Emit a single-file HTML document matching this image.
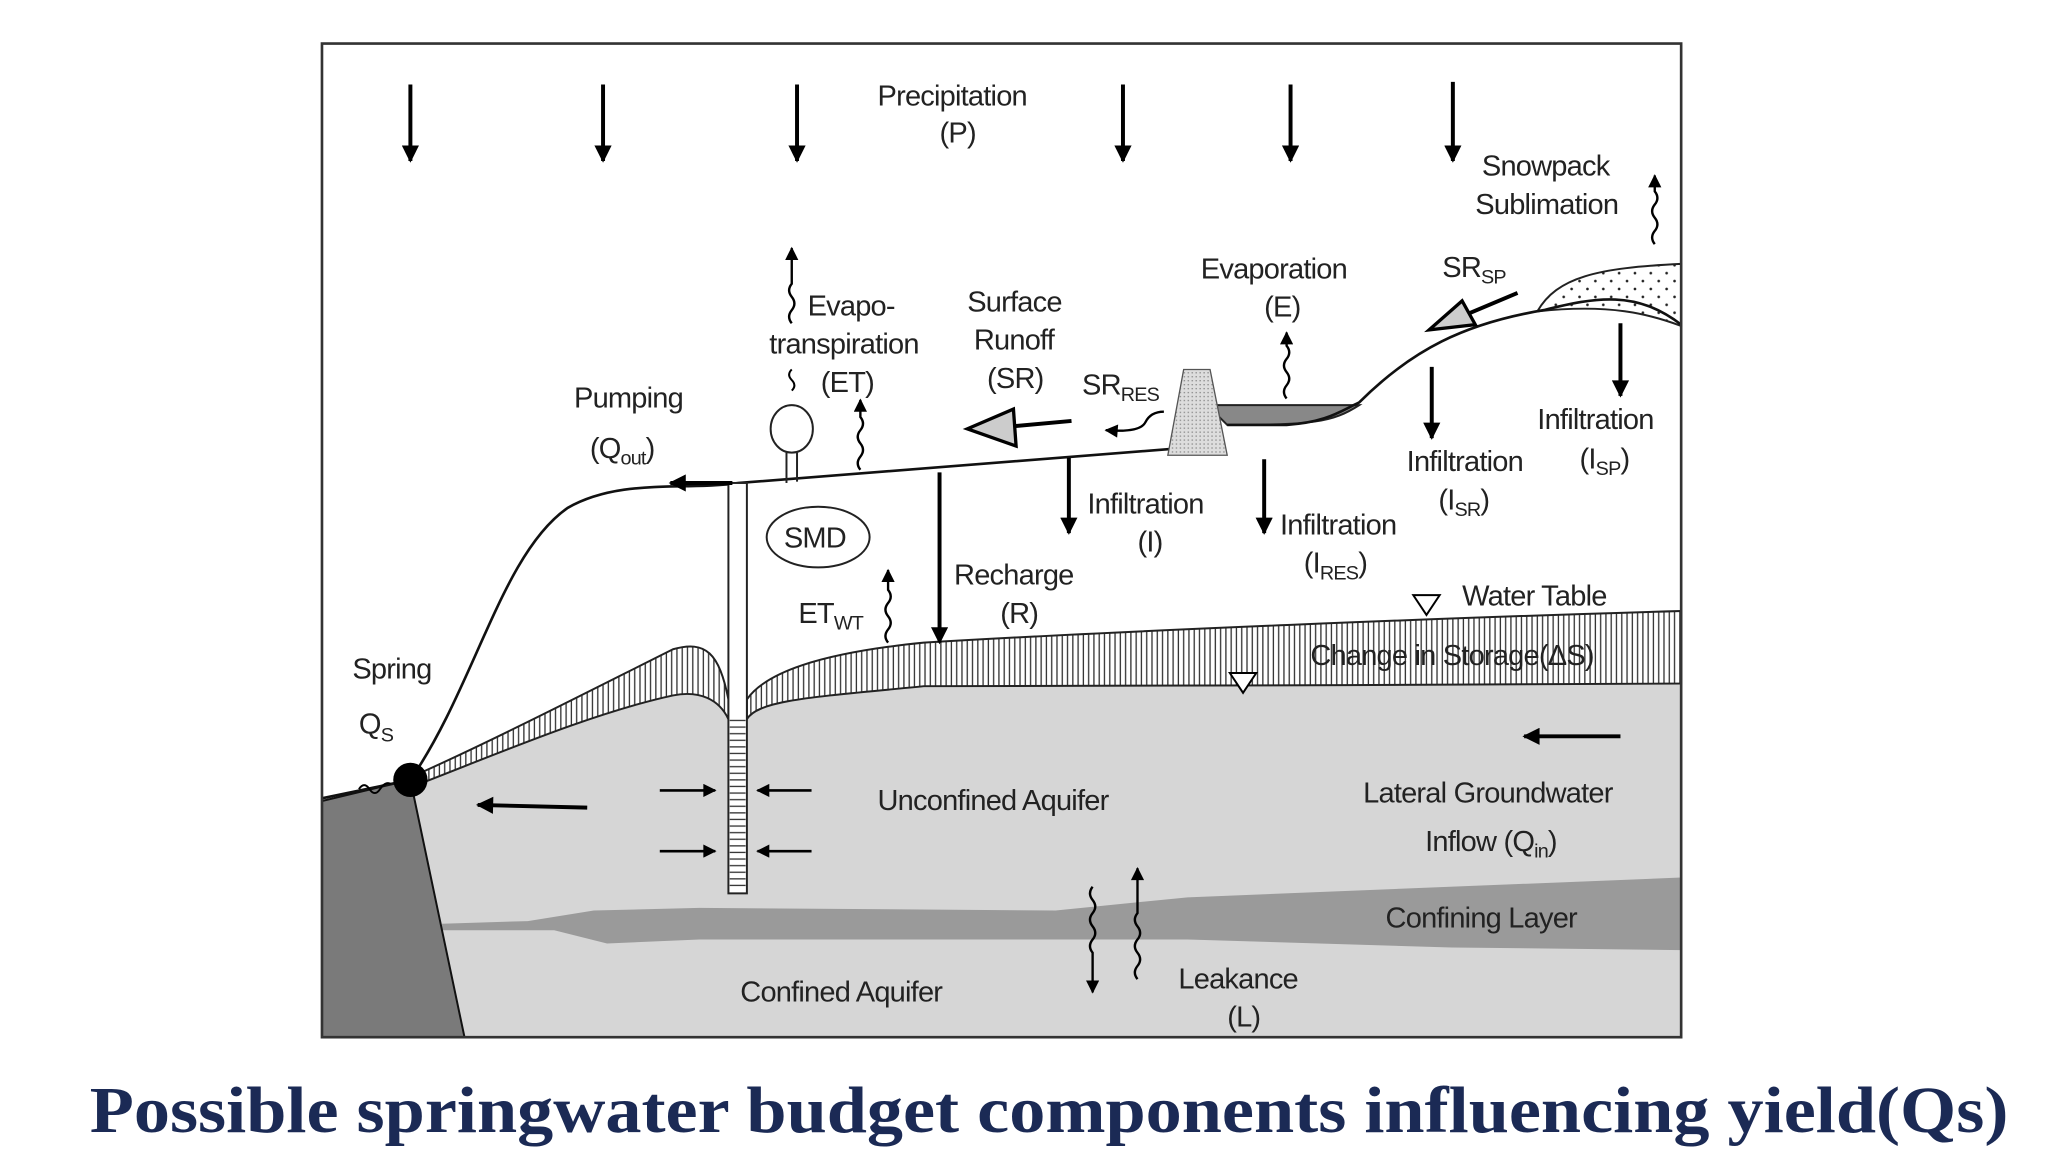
<!DOCTYPE html>
<html><head><meta charset="utf-8"><style>
html,body{margin:0;padding:0;background:#fff;width:2048px;height:1152px;overflow:hidden}
svg{display:block}
text{font-family:"Liberation Sans",sans-serif;font-size:22px;fill:#222;letter-spacing:-0.6px}
</style></head><body>
<svg width="2048" height="1152" viewBox="0 0 1552 873" preserveAspectRatio="none" xmlns="http://www.w3.org/2000/svg">
<defs>
<marker id="ah" viewBox="0 0 10 10" refX="9" refY="5" markerWidth="20" markerHeight="13" orient="auto" markerUnits="userSpaceOnUse"><path d="M0,0 L10,5 L0,10 z" fill="#000"/></marker>
<marker id="as" viewBox="0 0 10 10" refX="9" refY="5" markerWidth="14" markerHeight="10" orient="auto" markerUnits="userSpaceOnUse"><path d="M0,0 L10,5 L0,10 z" fill="#000"/></marker>
<pattern id="vh" width="4" height="10" patternUnits="userSpaceOnUse"><rect width="4" height="10" fill="#fff"/><line x1="1" y1="0" x2="1" y2="10" stroke="#333" stroke-width="1"/></pattern>
<pattern id="hh" width="10" height="5" patternUnits="userSpaceOnUse"><rect width="10" height="5" fill="#fff"/><line x1="0" y1="1" x2="10" y2="1" stroke="#333" stroke-width="1"/></pattern>
<pattern id="dots" width="12" height="12" patternUnits="userSpaceOnUse"><rect width="12" height="12" fill="#fff"/><circle cx="3" cy="3" r="1" fill="#222"/><circle cx="9" cy="9" r="1" fill="#222"/></pattern>
<pattern id="dam" width="3" height="3" patternUnits="userSpaceOnUse"><rect width="3" height="3" fill="#ddd"/><rect width="1" height="1" fill="#888"/></pattern>
</defs>
<rect x="0" y="0" width="1552" height="873" fill="#fff"/>
<path d="M311,591 C380,570 450,540 510,527 C530,523 545,530 552,545 L566,545 C575,530 620,528 700,520 L1274,518 L1274,786 L244,786 Z" fill="#d6d6d6"/>
<path d="M318,586 C380,558 450,522 510,492 C535,485 545,495 552,530 L552,545 C545,530 530,523 510,527 C450,540 380,570 318,594 Z" fill="url(#vh)" stroke="#222" stroke-width="1.5"/>
<path d="M566,530 C580,510 620,495 700,487 C850,478 1100,468 1274,463 L1274,518 C1100,519 850,520 700,520 C620,528 575,530 566,545 Z" fill="url(#vh)" stroke="#222" stroke-width="1.5"/>
<path d="M335,700 L400,698 L450,690 L530,688 L800,690 L900,680 L1274,665 L1274,720 L1100,718 L900,712 L750,712 L530,712 L460,715 L420,705 L335,705 Z" fill="#9a9a9a"/>
<path d="M244,607 L311,591 L352,786 L244,786 Z" fill="#7a7a7a" stroke="#111" stroke-width="1.5"/>
<path d="M1165,236 C1180,210 1210,203 1274,200 L1274,247 C1250,238 1220,230 1165,236 Z" fill="url(#dots)" stroke="#222" stroke-width="1.5"/>
<path d="M915,307 L1030,307 C1010,320 995,322 930,322 Z" fill="#888" stroke="#222" stroke-width="1.5"/>
<path d="M311,591 C360,520 380,420 430,385 C470,362 520,372 560,366 L890,340 M930,322 L975,322 C1005,320 1015,312 1030,305 C1070,265 1110,245 1170,235 C1210,225 1240,220 1274,246" fill="none" stroke="#111" stroke-width="2"/>
<path d="M244,605 L311,591" stroke="#111" stroke-width="2"/>
<path d="M885,345 L897,280 L917,280 L930,345 Z" fill="url(#dam)" stroke="#555" stroke-width="1"/>
<rect x="552" y="366" width="14" height="311" fill="#fff" stroke="#222" stroke-width="1.5"/>
<rect x="553" y="545" width="12" height="130" fill="url(#hh)"/>
<circle cx="311" cy="591" r="13" fill="#000"/>
<path d="M272,598 q4,-6 8,0 t8,0 t8,-4" fill="none" stroke="#000" stroke-width="1.5"/>
<rect x="244" y="33" width="1030" height="753" fill="none" stroke="#333" stroke-width="2"/>
<g stroke="#000" stroke-width="3" marker-end="url(#ah)">
<line x1="311" y1="64" x2="311" y2="122"/><line x1="457" y1="64" x2="457" y2="122"/><line x1="604" y1="64" x2="604" y2="122"/>
<line x1="851" y1="64" x2="851" y2="122"/><line x1="978" y1="64" x2="978" y2="122"/><line x1="1101" y1="62" x2="1101" y2="122"/>
<line x1="810" y1="347" x2="810" y2="404"/><line x1="958" y1="348" x2="958" y2="404"/><line x1="1085" y1="278" x2="1085" y2="332"/>
<line x1="1228" y1="245" x2="1228" y2="300"/><line x1="712" y1="358" x2="712" y2="487"/>
<line x1="445" y1="612" x2="362" y2="610"/><line x1="1228" y1="558" x2="1155" y2="558"/>
<line x1="555" y1="366" x2="508" y2="366"/>
</g>
<g stroke="#000" stroke-width="2" marker-end="url(#as)">
<line x1="500" y1="599" x2="542" y2="599"/><line x1="615" y1="599" x2="574" y2="599"/>
<line x1="500" y1="645" x2="542" y2="645"/><line x1="615" y1="645" x2="574" y2="645"/>
</g>
<g fill="none" stroke="#000" stroke-width="1.8" marker-end="url(#as)">
<path d="M1254,185 q-4,-5 0,-10 t0,-10 t0,-10 t0,-10 L1254,133"/>
<path d="M975,302 q-4,-5 0,-10 t0,-10 t0,-10 t0,-10 L975,252"/>
<path d="M600,245 q-4,-5 0,-10 t0,-10 t0,-10 L600,188"/>
<path d="M652,356 q-4,-5 0,-10 t0,-10 t0,-10 t0,-10 L652,303"/>
<path d="M673,487 q-4,-5 0,-10 t0,-10 t0,-10 t0,-10 L673,432"/>
<path d="M828,672 q-4,5 0,10 t0,10 t0,10 t0,10 t0,10 L828,752"/>
<path d="M862,742 q-4,-5 0,-10 t0,-10 t0,-10 t0,-10 t0,-10 L862,658"/>
<path d="M882,312 q-10,0 -14,8 t-30,6"/>
</g>
<path d="M600,280 q-4,4 0,8 t0,8" fill="none" stroke="#000" stroke-width="1.5"/>
<line x1="812" y1="319" x2="768" y2="323" stroke="#000" stroke-width="3"/>
<path d="M733,325 L768,310 L770,338 Z" fill="#ccc" stroke="#000" stroke-width="2.5"/>
<line x1="1150" y1="222" x2="1112" y2="238" stroke="#000" stroke-width="3"/>
<path d="M1083,250 L1108,228 L1118,246 Z" fill="#ccc" stroke="#000" stroke-width="2.5"/>
<ellipse cx="600" cy="325" rx="16" ry="18" fill="#fff" stroke="#222" stroke-width="1.5"/>
<line x1="596" y1="343" x2="596" y2="366" stroke="#222" stroke-width="1.5"/><line x1="604" y1="343" x2="604" y2="365" stroke="#222" stroke-width="1.5"/>
<ellipse cx="620" cy="407" rx="39" ry="23" fill="#fff" stroke="#222" stroke-width="1.5"/>
<path d="M1071,451 L1091,451 L1081,466 Z" fill="#fff" stroke="#000" stroke-width="1.5"/>
<path d="M932,510 L952,510 L942,525 Z" fill="#fff" stroke="#000" stroke-width="1.5"/>
<text x="665" y="80">Precipitation</text><text x="712" y="108">(P)</text>
<text x="1123" y="133">Snowpack</text><text x="1118" y="162">Sublimation</text>
<text x="910" y="211">Evaporation</text><text x="958" y="240">(E)</text>
<text x="1093" y="210">SR<tspan font-size="15" dy="5">SP</tspan></text>
<text x="612" y="239">Evapo-</text><text x="583" y="268">transpiration</text><text x="622" y="297">(ET)</text>
<text x="733" y="236">Surface</text><text x="738" y="265">Runoff</text><text x="748" y="294">(SR)</text>
<text x="820" y="299">SR<tspan font-size="15" dy="5">RES</tspan></text>
<text x="435" y="309">Pumping</text><text x="447" y="347">(Q<tspan font-size="15" dy="5">out</tspan><tspan dy="-5">)</tspan></text>
<text x="594" y="415">SMD</text>
<text x="723" y="443">Recharge</text><text x="758" y="472">(R)</text>
<text x="605" y="472">ET<tspan font-size="15" dy="5">WT</tspan></text>
<text x="824" y="389">Infiltration</text><text x="862" y="418">(I)</text>
<text x="970" y="405">Infiltration</text><text x="988" y="434">(I<tspan font-size="15" dy="5">RES</tspan><tspan dy="-5">)</tspan></text>
<text x="1066" y="357">Infiltration</text><text x="1090" y="386">(I<tspan font-size="15" dy="5">SR</tspan><tspan dy="-5">)</tspan></text>
<text x="1165" y="325">Infiltration</text><text x="1197" y="355">(I<tspan font-size="15" dy="5">SP</tspan><tspan dy="-5">)</tspan></text>
<text x="1108" y="459">Water Table</text>
<text x="993" y="504">Change in Storage(ΔS)</text>
<text x="267" y="514">Spring</text><text x="272" y="556">Q<tspan font-size="15" dy="6">S</tspan></text>
<text x="665" y="614">Unconfined Aquifer</text>
<text x="1033" y="608">Lateral Groundwater</text><text x="1080" y="645">Inflow (Q<tspan font-size="15" dy="5">in</tspan><tspan dy="-5">)</tspan></text>
<text x="1050" y="703">Confining Layer</text>
<text x="561" y="759">Confined Aquifer</text>
<text x="893" y="749">Leakance</text><text x="930" y="778">(L)</text>
<text x="68" y="858" textLength="1454" lengthAdjust="spacingAndGlyphs" style="font-family:'Liberation Serif',serif;font-size:50px;font-weight:bold;fill:#1b2a55;letter-spacing:0">Possible springwater budget components influencing yield(Qs)</text>
</svg>
</body></html>
